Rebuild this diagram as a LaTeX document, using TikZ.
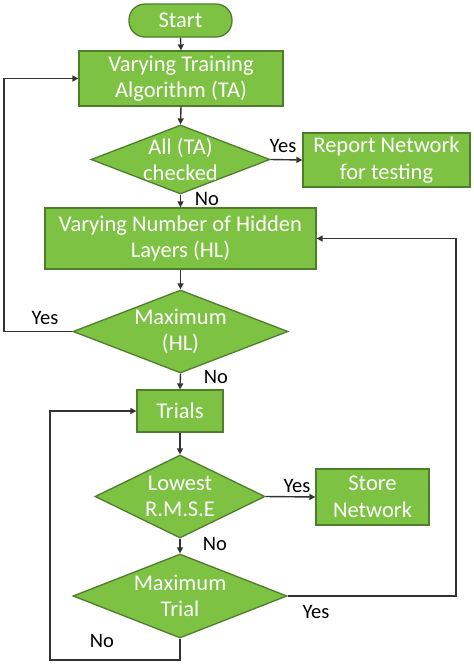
\documentclass[tikz,border=0pt]{standalone}
\usepackage{fontspec}
\setmainfont{Carlito}
\usetikzlibrary{shapes.geometric,arrows.meta,calc}
\definecolor{boxfill}{HTML}{7DC242}
\definecolor{boxline}{HTML}{4E7D2C}
\definecolor{conn}{HTML}{333333}
\begin{document}
\begin{tikzpicture}[x=1pt,y=1pt,
  every node/.style={font=\fontsize{22.5}{26.5}\selectfont},
  procbox/.style={draw=boxline, line width=1.3pt, fill=boxfill, text=white, align=center, inner sep=0pt},
  decbox/.style={diamond, draw=boxline, line width=1.3pt, fill=boxfill, inner sep=0pt, aspect=2},
  dectext/.style={text=white, align=center, inner sep=0pt},
  lbl/.style={text=black, inner sep=0pt, font=\fontsize{20.5}{24}\selectfont},
  conn/.style={draw=conn, line width=1.4pt, -{Triangle[length=6pt,width=6pt]}},
  connplain/.style={draw=conn, line width=1.4pt}]
\useasboundingbox (0,0) rectangle (474,-665);

\node[procbox, rounded corners=16pt, minimum width=103pt, minimum height=33pt] (start) at (180.5,-20.5) {Start};
\node[procbox, minimum width=204pt, minimum height=55pt] (ta) at (181,-78.5) {Varying Training\\Algorithm (TA)};
\node[decbox, minimum width=179pt, minimum height=69pt] (d1) at (180.5,-159.5) {};
\node[dectext] (d1t) at (d1.center) {All (TA)\\checked};
\node[procbox, minimum width=167pt, minimum height=54pt] (report) at (386.5,-160) {Report Network\\for testing};
\node[procbox, minimum width=271pt, minimum height=61pt] (hl) at (180.5,-238.5) {Varying Number of Hidden\\Layers (HL)};
\node[decbox, minimum width=215pt, minimum height=83pt] (d2) at (180.5,-331.5) {};
\node[dectext] (d2t) at (d2.center) {Maximum\\(HL)};
\node[procbox, minimum width=86pt, minimum height=42pt] (trials) at (180,-411) {Trials};
\node[decbox, minimum width=170pt, minimum height=83pt] (d3) at (180,-496.5) {};
\node[dectext] (d3t) at (d3.center) {Lowest\\R.M.S.E};
\node[procbox, minimum width=113pt, minimum height=56pt] (store) at (372.5,-497) {Store\\Network};
\node[decbox, minimum width=214pt, minimum height=84pt] (d4) at (180,-596) {};
\node[dectext] (d4t) at (d4.center) {Maximum\\Trial};

\node[lbl] (y1) at (283,-146) {Yes};
\node[lbl] (n1) at (207,-199) {No};
\node[lbl] (y2) at (45,-318) {Yes};
\node[lbl] (n2) at (216,-377) {No};
\node[lbl] (y3) at (297,-486) {Yes};
\node[lbl] (n3) at (215,-544) {No};
\node[lbl] (y4) at (316,-612) {Yes};
\node[lbl] (n4) at (102,-641) {No};

\coordinate (lx) at (4,0);
\coordinate (rx) at (456,0);
\coordinate (by) at (0,-660);
\coordinate (bx) at (50,0);

\draw[conn] (start.south) -- (ta.north);
\draw[conn] (ta.south) -- (d1.north);
\draw[conn] (d1.east) -- (report.west);
\draw[conn] (d1.south) -- (hl.north);
\draw[conn] (hl.south) -- (d2.north);
\draw[conn] (d2.west) -- (d2.west -| lx) -- (ta.west -| lx) -- (ta.west);
\draw[conn] (d2.south) -- (trials.north);
\draw[conn] (trials.south) -- (d3.north);
\draw[conn] (d3.east) -- (store.west);
\draw[conn] (d3.south) -- (d4.north);
\draw[conn] (d4.east) -- (d4.east -| rx) -- (hl.east -| rx) -- (hl.east);
\draw[conn] (d4.south) -- (d4.south |- by) -- (bx |- by) -- (bx |- trials.west) -- (trials.west);
\end{tikzpicture}
\end{document}
